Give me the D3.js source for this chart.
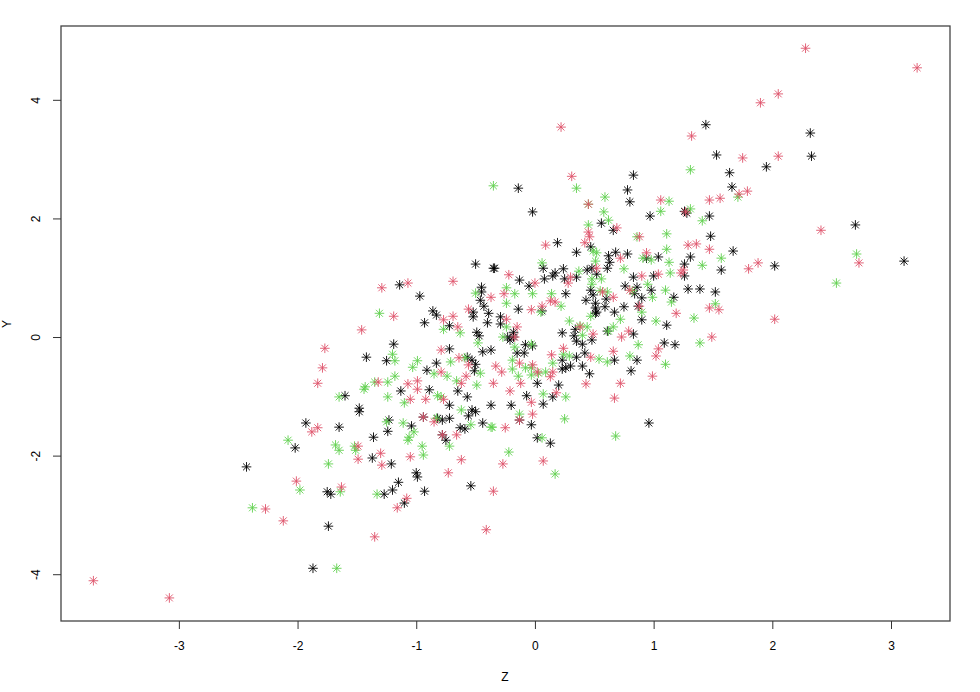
<!DOCTYPE html>
<html>
<head>
<meta charset="utf-8">
<script src="https://cdn.jsdelivr.net/npm/d3@7"></script>
<style>
  html, body { margin: 0; padding: 0; background: #fff; }
  text { font-family: "Liberation Sans", Arial, sans-serif; fill: #000; }
</style>
</head>
<body>
<div id="chart"></div>
<script>
// values, [Z, Y]
const blackPoints = [
  [-1.60,-0.99],[-1.93,-1.45],[-1.65,-1.52],[-2.02,-1.87],[-2.43,-2.19],[-1.75,-2.61],[-1.72,-2.65],[-1.74,-3.19],[-1.87,-3.90],
  [-1.19,-0.12],[-1.42,-0.34],[-1.25,-0.40],[-0.72,-0.20],[-0.57,-0.34],[-0.53,-0.39],[-0.44,-0.25],[-0.37,-0.22],[-0.50,-0.46],
  [-0.51,-0.57],[-0.83,-0.44],[-0.91,-0.56],[-0.21,-0.05],[-0.15,-0.27],[-0.09,-0.27],[-0.08,-0.13],[-0.02,-0.15],[0.02,-0.78],
  [-1.13,-0.91],[-0.89,-0.89],[-0.65,-0.91],[-0.57,-1.01],[-0.07,-0.99],[-1.48,-1.20],[-1.48,-1.26],[-0.72,-1.15],[-0.37,-1.15],
  [-0.20,-1.15],[-0.53,-1.23],[-0.50,-1.26],[-0.56,-1.33],[-0.94,-1.35],[-0.82,-1.37],[-0.78,-1.40],[-0.72,-1.37],[-1.23,-1.40],
  [-1.04,-1.50],[-1.24,-1.59],[-1.36,-1.69],[-0.44,-1.45],[-0.63,-1.53],[-0.59,-1.55],[-0.78,-1.65],[-0.75,-1.74],[-0.13,-1.40],
  [-0.03,-1.48],[0.02,-1.70],[0.13,-1.79],[-1.37,-2.04],[-1.21,-2.14],[-1.00,-2.29],[-0.99,-2.36],[-1.15,-2.45],[-1.20,-2.58],
  [-0.93,-2.60],[-0.54,-2.51],[-1.27,-2.65],[-1.10,-2.80],
  [-1.14,0.88],[-0.97,0.69],[-0.93,0.24],[-0.86,0.44],[-0.83,0.37],[-0.72,0.19],[-0.50,1.23],[-0.35,1.16],[-0.34,1.16],[-0.13,0.96],
  [-0.05,0.86],[-0.45,0.84],[-0.45,0.76],[-0.46,0.62],[-0.43,0.52],[-0.39,0.40],[-0.52,0.42],[-0.52,0.34],[-0.40,0.24],[-0.29,0.34],
  [-0.29,0.22],[-0.14,0.47],[-0.49,0.08],[-0.47,0.02],[-0.23,0],[-0.18,0.08],[-0.18,0],
  [0.66,1.80],[0.19,1.59],[1.48,1.70],[0.35,1.43],[0.47,1.52],[0.68,1.43],[0.62,1.37],[0.78,1.40],[0.63,1.26],[0.61,1.16],[0.94,1.33],
  [1.04,1.35],[1.31,1.35],[1.26,1.23],[1.57,1.13],[0.07,1.16],[0.24,1.15],[0.17,1.08],[0.08,0.98],[0.15,1.03],[0.25,0.98],[0.35,1.01],
  [0.44,1.13],[0.48,1.16],[0.52,1.06],[0.83,1.01],[1.00,1.03],[1.26,1.03],[0.76,0.86],[0.86,0.84],[0.84,0.73],[0.98,0.79],[1.29,0.81],
  [1.39,0.81],[1.52,0.76],[1.17,0.67],[0.90,0.66],[0.26,0.73],[0.47,0.79],[0.49,0.71],[0.43,0.62],[0.51,0.57],[0.60,0.64],[0.59,0.51],
  [0.51,0.49],[0.75,0.51],[0.87,0.52],[0.67,0.42],[0.51,0.40],[0.52,0.42],[0.06,0.44],[0.90,0.29],[1.11,0.20],[0.34,0.13],[0.23,0.07],
  [0.33,0.02],[0.35,-0.07],[0.40,-0.12],[0.48,-0.05],[0.61,0.10],[0.83,0.05],[1.09,-0.10],[1.18,-0.13],[0.35,-0.34],[0.42,-0.27],
  [0.23,-0.39],[0.23,-0.54],[0.26,-0.52],[0.30,-0.49],[0.40,-0.49],[0.46,-0.62],[0.67,-0.39],[0.86,-0.39],[0.81,-0.57],[0.20,-0.81],
  [0.15,-1.01],[0.07,-1.13],[0.96,-1.45],[-0.02,2.11],
  [1.44,3.58],[2.32,3.44],[2.33,3.05],[1.53,3.07],[1.95,2.87],[1.64,2.77],[1.66,2.53],[0.83,2.73],[0.78,2.48],[0.80,2.28],[0.97,2.04],
  [1.26,2.12],[1.28,2.09],[1.47,2.04],[2.70,1.89],[0.56,1.92],[-0.14,2.51],[1.67,1.45],[2.02,1.20],[3.11,1.28]
];

const redPoints = [
  [-1.77,-0.19],[-1.79,-0.52],[-1.83,-0.78],[-1.83,-1.53],[-1.88,-1.60],[-2.01,-2.43],[-1.63,-2.53],[-2.27,-2.90],[-2.12,-3.10],
  [-3.72,-4.11],[-3.08,-4.40],[-1.49,-1.84],[-1.49,-2.06],
  [-0.79,-0.22],[-0.64,-0.35],[-0.56,-0.47],[-0.33,-0.49],[-0.28,-0.59],[-0.13,-0.44],[-0.79,-0.59],[-0.58,-0.66],[-0.62,-0.78],
  [-0.35,-0.78],[-0.12,-0.78],[-1.32,-0.76],[-1.07,-0.79],[-0.99,-0.74],[-0.99,-0.88],[-0.21,-0.91],[-1.05,-1.05],[-0.92,-1.05],
  [-0.77,-1.05],[-0.94,-1.35],[-0.85,-1.43],[-0.13,-1.40],[-0.25,-1.53],[-0.66,-1.65],[-0.78,-1.65],[-1.30,-1.96],[-1.29,-2.16],
  [-1.05,-2.02],[-0.62,-2.07],[-0.27,-2.14],[-0.73,-2.29],[-0.35,-2.60],[-1.08,-2.72],[-1.16,-2.88],[-0.41,-3.25],[-1.35,-3.37],
  [-1.46,0.12],[-1.29,0.83],[-1.07,0.91],[-1.19,0.35],[-0.69,0.94],[-0.56,0.47],[-0.77,0.29],[-0.69,0.35],[-0.65,0.17],[-0.37,0.67],
  [-0.26,0.73],[-0.22,1.05],[-0.24,0.30],[-0.15,0.17],[-0.17,0],
  [0.45,1.77],[0.46,1.69],[0.42,1.59],[0.88,1.69],[0.09,1.55],[1.29,1.55],[1.36,1.57],[1.47,1.48],[0.94,1.42],[0.72,1.33],[1.25,1.13],
  [1.23,1.08],[0.90,1.03],[1.04,1.06],[0.30,1.01],[0.52,1.16],[0,0.91],[0.28,0.91],[0.57,0.76],[0.66,0.67],[0.80,0.79],[0.06,0.52],
  [0.13,0.61],[0.17,0.59],[-0.03,0.46],[0.88,0.52],[1.19,0.40],[1.47,0.49],[1.55,0.46],[0.38,0.17],[0.49,0.05],[0.79,0.10],[0.73,0],
  [1.49,0],[0.24,-0.19],[0.14,-0.30],[0.47,-0.34],[0.66,-0.24],[1.04,-0.20],[1.02,-0.32],[-0.02,-0.47],[0.02,-0.59],[0.15,-0.59],
  [0.13,-0.67],[0.99,-0.66],[0.43,-0.79],[0.72,-0.78],[0.18,-0.94],[-0.03,-1.10],[-0.02,-1.30],[0.67,-1.03],[0.07,-2.09],
  [2.28,4.87],[3.22,4.54],[2.05,4.10],[1.90,3.95],[0.22,3.54],[1.32,3.39],[1.75,3.02],[2.05,3.05],[0.31,2.71],[1.06,2.31],[1.47,2.31],
  [1.56,2.34],[1.79,2.46],[1.72,2.41],[0.69,1.84],[2.41,1.80],[1.27,2.11],[0.45,2.24],[1.88,1.25],[1.80,1.15],[2.73,1.25],[2.02,0.30]
];

const greenPoints = [
  [-1.65,-1.01],[-2.08,-1.74],[-1.68,-1.82],[-1.65,-1.91],[-1.52,-1.84],[-1.51,-1.91],[-1.74,-2.14],[-1.98,-2.58],[-1.64,-2.61],
  [-2.38,-2.88],[-1.67,-3.90],[-1.43,-0.84],
  [-0.48,-0.10],[-1.20,-0.29],[-1.18,-0.40],[-0.99,-0.40],[-1.03,-0.51],[-0.71,-0.42],[-0.59,-0.35],[-0.19,-0.39],[-0.17,-0.17],
  [-0.03,-0.12],[-0.19,-0.54],[-0.08,-0.52],[-0.03,-0.52],[-0.14,-0.66],[-0.03,-0.64],[-0.46,-0.61],[-0.85,-0.62],[-0.74,-0.66],
  [-0.66,-0.74],[-0.49,-0.81],[-1.18,-0.66],[-1.24,-0.76],[-1.35,-0.76],[-1.44,-0.88],[-1.24,-1.01],[-1.10,-1.11],[-0.82,-0.99],
  [-0.79,-1.01],[-0.62,-1.23],[-0.83,-1.37],[-1.11,-1.45],[-1.25,-1.43],[-0.13,-1.30],[-0.54,-1.48],[-0.36,-1.52],[-0.37,-1.52],
  [-1.02,-1.60],[-1.06,-1.69],[-1.07,-1.74],[-0.95,-1.84],[-0.94,-1.99],[-0.72,-1.84],[-0.22,-1.94],[-1.33,-2.65],
  [-1.31,0.40],[-0.77,0.13],[-0.63,0.07],[-0.50,0.74],[-0.24,0.83],[-0.17,0.73],[-0.24,0.57],[-0.24,0.17],[-0.27,0],
  [1.11,1.74],[0.86,1.69],[1.57,1.33],[1.11,1.48],[0.91,1.33],[0.98,1.30],[1.13,1.26],[1.41,1.21],[0.49,1.45],[0.52,1.42],[0.51,1.28],
  [0.06,1.25],[0.37,1.11],[0.75,1.15],[1.14,1.08],[0.48,0.98],[0.56,0.98],[0.48,0.89],[0.95,0.89],[1.10,0.79],[0.55,0.78],[0.61,0.76],
  [0.82,0.78],[0.99,0.67],[1.15,0.59],[0.14,0.73],[-0.02,0.73],[0.22,0.52],[0.05,0.42],[0.47,0.35],[1.52,0.56],[0.90,0.42],[0.29,0.27],
  [0.72,0.30],[1.02,0.27],[1.34,0.32],[0.38,0.19],[0.44,0.17],[0.66,0.17],[0.62,0.10],[0.40,0.03],[0.87,-0.13],[1.39,-0.10],[0.24,-0.29],
  [0.29,-0.32],[0.54,-0.37],[0.61,-0.42],[0.80,-0.32],[0.15,-0.44],[1.10,-0.46],[0.03,-0.61],[0.09,-0.59],[0.07,-0.96],[0.26,-1.01],[0.25,-1.38],
  [1.31,2.82],[0.35,2.51],[0.59,2.36],[1.13,2.29],[1.06,2.12],[1.71,2.36],[0.45,2.24],[0.58,2.11],[0.62,1.97],[0.45,1.89],[1.31,2.16],
  [1.41,1.96],[-0.35,2.55],[2.71,1.40],[2.54,0.91],[0.06,-1.70],[0.68,-1.67],[0.17,-2.31]
];

const groups = [
  { points: blackPoints, color: "#000000" },
  { points: greenPoints, color: "#61D04F" },
  { points: redPoints, color: "#DF536B" }
];

const zTicks = [-3, -2, -1, 0, 1, 2, 3];
const yTicks = [-4, -2, 0, 2, 4];
const zLabel = "Z";
const yLabel = "Y";

const width = 980;
const height = 692;
const margin = { top: 26, right: 30, bottom: 71, left: 61 };

const x = d3.scaleLinear()
  .domain([-3.993, 3.497])
  .range([margin.left, width - margin.right]);

const y = d3.scaleLinear()
  .domain([-4.789, 5.245])
  .range([height - margin.bottom, margin.top]);

const svg = d3.select("#chart").append("svg")
  .attr("width", width)
  .attr("height", height)
  .style("display", "block");

// R's pch=8 star: a plus and a cross
const r = 4.8;
const d = r * 0.72;
const star = `M${-r},0H${r}M0,${-r}V${r}M${-d},${-d}L${d},${d}M${-d},${d}L${d},${-d}`;

groups.forEach(g => {
  svg.append("g")
    .attr("fill", "none")
    .attr("stroke", g.color)
    .attr("stroke-width", 0.9)
    .selectAll("path")
    .data(g.points)
    .join("path")
    .attr("d", star)
    .attr("transform", p => `translate(${x(p[0])},${y(p[1])})`);
});

// box
svg.append("rect")
  .attr("x", margin.left)
  .attr("y", margin.top)
  .attr("width", width - margin.left - margin.right)
  .attr("height", height - margin.top - margin.bottom)
  .attr("fill", "none")
  .attr("stroke", "#444")
  .attr("stroke-width", 1.3);

const xAxis = svg.append("g")
  .attr("transform", `translate(0,${height - margin.bottom})`)
  .call(d3.axisBottom(x).tickValues(zTicks).tickSize(8).tickPadding(12).tickFormat(String));
xAxis.select(".domain").remove();
xAxis.selectAll("text").attr("font-size", 12).attr("font-family", null);
xAxis.selectAll("line").attr("stroke", "#333");

const yAxis = svg.append("g")
  .attr("transform", `translate(${margin.left},0)`)
  .call(d3.axisLeft(y).tickValues(yTicks).tickSize(8).tickFormat(String));
yAxis.select(".domain").remove();
yAxis.selectAll("line").attr("stroke", "#333");
yAxis.selectAll("text")
  .attr("font-size", 12)
  .attr("font-family", null)
  .attr("x", null)
  .attr("dy", null)
  .attr("text-anchor", "middle")
  .attr("transform", "translate(-21,0) rotate(-90)");

svg.append("text")
  .attr("x", 505)
  .attr("y", 681)
  .attr("text-anchor", "middle")
  .attr("font-size", 12)
  .text(zLabel);

svg.append("text")
  .attr("text-anchor", "middle")
  .attr("font-size", 12)
  .attr("transform", "translate(11,324) rotate(-90)")
  .text(yLabel);
</script>
</body>
</html>
